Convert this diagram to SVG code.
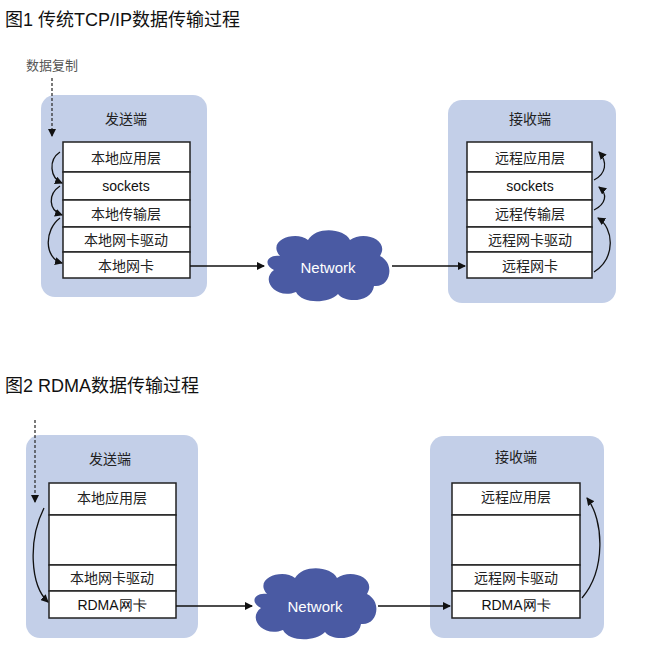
<svg xmlns="http://www.w3.org/2000/svg" width="653" height="655" viewBox="0 0 653 655">
<defs>
<marker id="ah" markerWidth="8" markerHeight="8" refX="7" refY="4" orient="auto" markerUnits="userSpaceOnUse"><path d="M0,0 L8,4 L0,8 z" fill="#111"/></marker>
<g id="cloud"><path d="M-48,-12 C-62,-28 -32,-38 -20,-28 C-12,-42 16,-40 22,-28 C36,-38 62,-28 52,-12 C68,-4 62,20 46,18 C44,34 18,36 10,26 C0,36 -26,36 -32,24 C-52,32 -68,12 -54,2 C-66,-4 -60,-14 -48,-12 z" fill="#4a5aa3"/></g>
</defs>
<style>
.t{font-family:"Liberation Sans","Noto Sans CJK SC",sans-serif;fill:#111}
.c{font-family:"Noto Sans CJK SC",sans-serif;font-size:14px;fill:#222;text-anchor:middle}
.s{font-family:"Liberation Sans",sans-serif;font-size:14px;fill:#111;text-anchor:middle}
.bg{fill:#c3cfe8}
.row{fill:#fff;stroke:#222;stroke-width:1.5}
.ln{fill:none;stroke:#111;stroke-width:1.3}
.dot{fill:none;stroke:#333;stroke-width:1.3;stroke-dasharray:3,2}
.nw{font-family:"Liberation Sans",sans-serif;font-size:15px;fill:#fff;text-anchor:middle}
</style>
<text class="t" x="5" y="26" font-size="18">图1 传统TCP/IP数据传输过程</text>
<text class="t" x="5" y="392" font-size="18">图2 RDMA数据传输过程</text>
<text x="26" y="70" font-family="Noto Sans CJK SC,sans-serif" font-size="13" fill="#555">数据复制</text>

<g id="sender1">
<rect class="bg" x="41" y="95" width="166" height="202" rx="14"/>
<text class="c" x="126" y="124">发送端</text>
<rect class="row" x="63" y="142" width="127" height="30"/><text class="c" x="126" y="163">本地应用层</text>
<rect class="row" x="63" y="172" width="127" height="28"/><text class="s" x="126" y="191">sockets</text>
<rect class="row" x="63" y="200" width="127" height="27"/><text class="c" x="126" y="219">本地传输层</text>
<rect class="row" x="63" y="227" width="127" height="25"/><text class="c" x="126" y="245">本地网卡驱动</text>
<rect class="row" x="63" y="252" width="127" height="26"/><text class="c" x="126" y="271">本地网卡</text>
</g>
<g id="receiver1">
<rect class="bg" x="448" y="100" width="168" height="203" rx="14"/>
<text class="c" x="530" y="124">接收端</text>
<rect class="row" x="467" y="142" width="125" height="30"/><text class="c" x="530" y="163">远程应用层</text>
<rect class="row" x="467" y="172" width="125" height="28"/><text class="s" x="530" y="191">sockets</text>
<rect class="row" x="467" y="200" width="125" height="27"/><text class="c" x="530" y="219">远程传输层</text>
<rect class="row" x="467" y="227" width="125" height="25"/><text class="c" x="530" y="245">远程网卡驱动</text>
<rect class="row" x="467" y="252" width="125" height="26"/><text class="c" x="530" y="271">远程网卡</text>
</g>
<g id="net1"><use href="#cloud" x="328" y="268"/><text class="nw" x="328" y="273">Network</text></g>

<g id="sender2">
<rect class="bg" x="26" y="435" width="172" height="203" rx="14"/>
<text class="c" x="110" y="464">发送端</text>
<rect class="row" x="49" y="483" width="127" height="32"/><text class="c" x="112" y="503">本地应用层</text>
<rect class="row" x="49" y="515" width="127" height="50"/>
<rect class="row" x="49" y="565" width="127" height="26"/><text class="c" x="112" y="583">本地网卡驱动</text>
<rect class="row" x="49" y="591" width="127" height="27"/><text class="s" x="112" y="610">RDMA网卡</text>
</g>
<g id="receiver2">
<rect class="bg" x="430" y="436" width="174" height="202" rx="14"/>
<text class="c" x="516" y="462">接收端</text>
<rect class="row" x="452" y="483" width="128" height="32"/><text class="c" x="516" y="502">远程应用层</text>
<rect class="row" x="452" y="515" width="128" height="50"/>
<rect class="row" x="452" y="565" width="128" height="26"/><text class="c" x="516" y="583">远程网卡驱动</text>
<rect class="row" x="452" y="591" width="128" height="27"/><text class="s" x="516" y="610">RDMA网卡</text>
</g>
<g id="net2"><use href="#cloud" x="315" y="606"/><text class="nw" x="315" y="612">Network</text></g>

<g id="connectors">
<path class="dot" d="M52,78 V136" marker-end="url(#ah)"/>
<path class="dot" d="M35,420 V502" marker-end="url(#ah)"/>
<path class="ln" d="M60,152 C48,160 50,178 62,183" marker-end="url(#ah)"/>
<path class="ln" d="M60,186 C48,194 48,210 62,215" marker-end="url(#ah)"/>
<path class="ln" d="M60,218 C44,230 44,258 62,263" marker-end="url(#ah)"/>
<path class="ln" d="M594,272 C616,258 614,228 598,218" marker-end="url(#ah)"/>
<path class="ln" d="M594,210 C606,204 608,194 599,187" marker-end="url(#ah)"/>
<path class="ln" d="M594,180 C606,174 608,162 599,152" marker-end="url(#ah)"/>
<path class="ln" d="M44,508 C28,540 30,585 48,602" marker-end="url(#ah)"/>
<path class="ln" d="M582,598 C606,570 604,520 587,498" marker-end="url(#ah)"/>
<path class="ln" d="M190,266 H264" marker-end="url(#ah)"/>
<path class="ln" d="M392,266 H465" marker-end="url(#ah)"/>
<path class="ln" d="M176,606 H252" marker-end="url(#ah)"/>
<path class="ln" d="M378,606 H450" marker-end="url(#ah)"/>
</g>
</svg>
